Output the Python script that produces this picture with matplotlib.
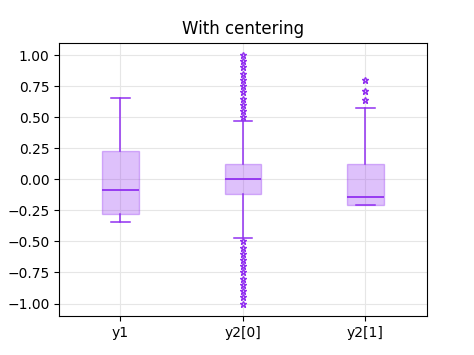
import matplotlib.pyplot as plt

# box statistics
labels = ["y1", "y2[0]", "y2[1]"]
whislo = [-0.345, -0.475, -0.21]
q1 = [-0.28, -0.12, -0.21]
med = [-0.09, 0.0, -0.145]
q3 = [0.23, 0.12, 0.12]
whishi = [0.655, 0.47, 0.57]
fliers = [
    [],
    [0.5, 0.55, 0.6, 0.65, 0.7, 0.75, 0.8, 0.85, 0.9, 0.95, 1.0,
     -0.5, -0.55, -0.6, -0.65, -0.7, -0.75, -0.8, -0.85, -0.9, -0.95, -1.0],
    [0.64, 0.71, 0.8],
]

stats = []
for i in range(len(labels)):
    stats.append({"label": labels[i], "whislo": whislo[i], "q1": q1[i], "med": med[i],
                  "q3": q3[i], "whishi": whishi[i], "fliers": fliers[i]})

purple = "#9130f0"

fig, ax = plt.subplots(figsize=(4.74, 3.55), dpi=100)
ax.bxp(stats, widths=0.3, patch_artist=True,
       boxprops=dict(facecolor=(0.58, 0.2, 0.95, 0.3), edgecolor=(0.58, 0.2, 0.95, 0.35)),
       medianprops=dict(color=purple, linewidth=1.3),
       whiskerprops=dict(color=purple, linewidth=1.1),
       capprops=dict(color=purple, linewidth=1.1),
       flierprops=dict(marker="*", markersize=5, markeredgecolor=purple,
                       markerfacecolor="#e8d0ff", markeredgewidth=1))
ax.set_title("With centering")
ax.grid(True, color="#e6e6e6")
ax.set_axisbelow(True)
ax.set_ylim(-1.1, 1.1)
fig.savefig("out.png")
